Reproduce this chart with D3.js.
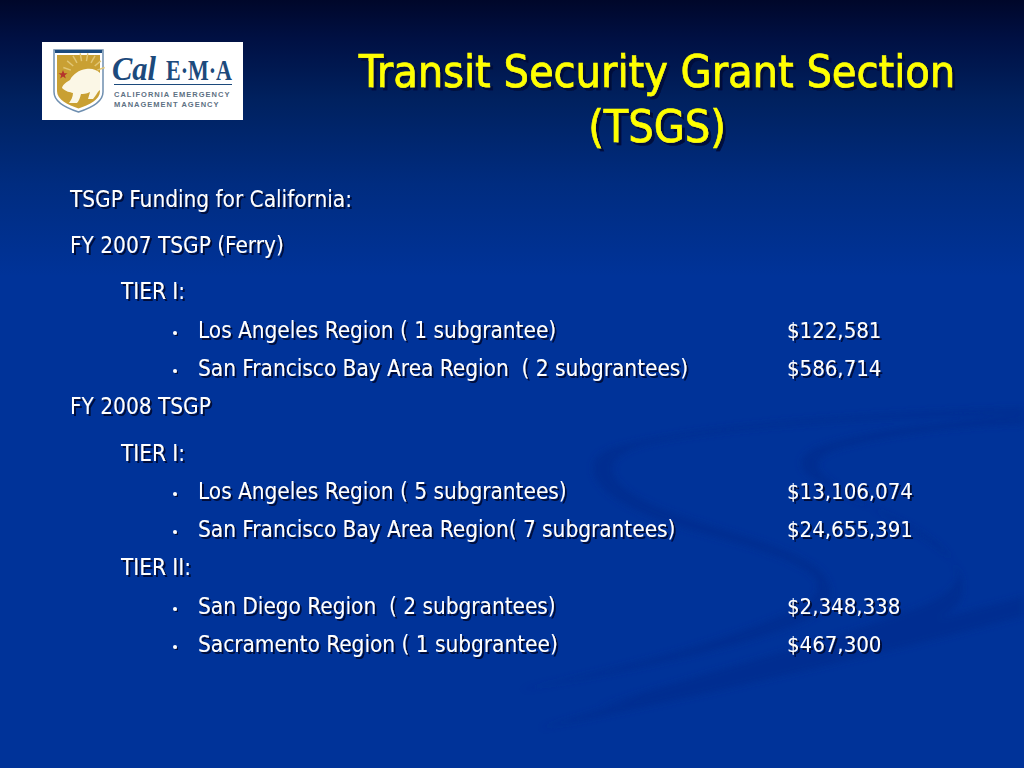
<!DOCTYPE html>
<html>
<head>
<meta charset="utf-8">
<title>Transit Security Grant Section (TSGS)</title>
<script src="https://cdn.jsdelivr.net/npm/d3@7"></script>
<style>
html, body { margin: 0; padding: 0; background: #003399; overflow: hidden; }
svg { display: block; }
</style>
</head>
<body>
<script>
const titleLines = ['Transit Security Grant Section', '(TSGS)'];
const rowLabels = [
  'TSGP Funding for California:',
  'FY 2007 TSGP (Ferry)',
  'TIER I:',
  'Los Angeles Region ( 1 subgrantee)',
  'San Francisco Bay Area Region  ( 2 subgrantees)',
  'FY 2008 TSGP',
  'TIER I:',
  'Los Angeles Region ( 5 subgrantees)',
  'San Francisco Bay Area Region( 7 subgrantees)',
  'TIER II:',
  'San Diego Region  ( 2 subgrantees)',
  'Sacramento Region ( 1 subgrantee)'
];
const rowLevels = [0, 0, 1, 2, 2, 0, 1, 2, 2, 1, 2, 2];
const rowAmounts = [null, null, null, 122581, 586714, null, null, 13106074, 24655391, null, 2348338, 467300];

const width = 1024, height = 768;
const rowY = [200, 246, 292, 331, 369, 407, 454, 492, 530, 568, 607, 645];
const levelX = d3.scaleOrdinal().domain([0, 1, 2]).range([70, 121, 198]);
const money = d3.format('$,');
const bodyFont = '"DejaVu Sans Condensed", "DejaVu Sans", sans-serif';

const svg = d3.select('body').append('svg').attr('width', width).attr('height', height);
const defs = svg.append('defs');

const bg = defs.append('linearGradient').attr('id', 'bg').attr('x1', 0).attr('y1', 0).attr('x2', 0).attr('y2', 1);
[[0, '#00072a'], [0.05, '#001043'], [0.13, '#00215f'], [0.24, '#002c80'], [0.36, '#003399'], [1, '#003399']]
  .forEach(s => bg.append('stop').attr('offset', s[0]).attr('stop-color', s[1]));
const blur = defs.append('filter').attr('id', 'soft').attr('x', '-10%').attr('y', '-10%').attr('width', '120%').attr('height', '120%');
blur.append('feGaussianBlur').attr('stdDeviation', 3);

const dropShadow = (id, off) => {
  const f = defs.append('filter').attr('id', id).attr('x', '-5%').attr('y', '-20%').attr('width', '110%').attr('height', '140%');
  f.append('feDropShadow').attr('dx', off).attr('dy', off).attr('stdDeviation', 0.5)
    .attr('flood-color', '#000f3a').attr('flood-opacity', 1);
};
dropShadow('shadowBody', 2);
dropShadow('shadowTitle', 3);

svg.append('rect').attr('width', width).attr('height', height).attr('fill', 'url(#bg)');

// faint swooshes behind the text
const swooshes = svg.append('g').attr('filter', 'url(#soft)').attr('fill', '#002a8c').attr('opacity', 0.6);
[
  'M1024 408 C880 412 690 425 612 448 C585 458 588 478 612 496 C660 532 760 540 808 572 C826 584 818 600 790 612 C700 650 600 672 520 690 C620 672 740 650 812 618 C838 604 836 580 812 564 C760 532 660 520 622 486 C606 470 610 456 640 446 C720 426 900 416 1024 414 Z',
  'M1024 416 C960 420 860 430 815 448 C795 458 798 470 815 480 C870 512 950 530 958 575 C956 592 930 604 900 614 C820 644 690 676 600 706 C720 682 860 650 940 618 C970 604 968 578 950 558 C920 530 850 500 822 474 C812 462 822 452 850 446 C900 432 970 426 1024 424 Z',
  'M1024 596 C940 620 800 650 680 686 C620 704 580 716 540 728 C640 710 800 672 900 648 C950 636 1000 622 1024 616 Z'
].forEach(d => swooshes.append('path').attr('d', d));

// logo
const logo = svg.append('g').attr('class', 'logo');
logo.append('rect').attr('x', 42).attr('y', 42).attr('width', 201).attr('height', 78).attr('fill', '#ffffff');
logo.append('path')
  .attr('d', 'M54 50 H103 V92 C103 102 91 108 78.500 112 C66 108 54 102 54 92 Z')
  .attr('fill', '#ffffff').attr('stroke', '#6f8fb0').attr('stroke-width', 1.5);
logo.append('path')
  .attr('d', 'M57 55 H100 V91 C100 100 89 105 78.500 108.500 C68 105 57 100 57 91 Z')
  .attr('fill', '#c9a033');
logo.append('rect').attr('x', 55).attr('y', 50).attr('width', 47).attr('height', 3).attr('fill', '#1c4a7c');
// sun rays above the bear
d3.range(-70, 71, 20).forEach(a => {
  const t = (a - 90) * Math.PI / 180;
  logo.append('line').attr('x1', 84 + 14 * Math.cos(t)).attr('y1', 75 + 14 * Math.sin(t))
    .attr('x2', 84 + 22 * Math.cos(t)).attr('y2', 75 + 22 * Math.sin(t))
    .attr('stroke', '#e2c777').attr('stroke-width', 1.4);
});
logo.append('path')
  .attr('d', 'M62 88 C63 84 67 82 70 80 C73 74 79 70 86 69 C92 68 97 70 100 73 L100 90 C97 92 96 96 93 99 L88 99 L90 92 C86 94 83 94 81 94 C80 98 79 101 77 103 L69 103 C71 100 73 97 73 93 C70 92 66 92 62 88 Z')
  .attr('fill', '#fbf7e6');
logo.append('path')
  .attr('d', 'M63 70 L64.200 73.200 L67.500 73.200 L64.800 75.200 L65.800 78.500 L63 76.500 L60.200 78.500 L61.200 75.200 L58.500 73.200 L61.800 73.200 Z')
  .attr('fill', '#b5342c');
logo.append('text').attr('x', 112).attr('y', 80)
  .attr('font-family', '"Liberation Serif", serif').attr('font-weight', 'bold').attr('font-style', 'italic')
  .attr('font-size', 34).attr('fill', '#1c4a7c').attr('textLength', 44).attr('lengthAdjust', 'spacingAndGlyphs').text('Cal');
logo.append('text').attr('x', 166).attr('y', 80)
  .attr('font-family', '"Liberation Serif", serif').attr('font-weight', 'bold')
  .attr('font-size', 30).attr('fill', '#1c4a7c').attr('textLength', 66).attr('lengthAdjust', 'spacingAndGlyphs').text('E·M·A');
logo.append('rect').attr('x', 114).attr('y', 84).attr('width', 118).attr('height', 1).attr('fill', '#1c4a7c');
[['CALIFORNIA EMERGENCY', 96.500], ['MANAGEMENT AGENCY', 107]].forEach(t => {
  logo.append('text').attr('x', 114).attr('y', t[1])
    .attr('font-family', '"Liberation Sans", sans-serif').attr('font-weight', 'bold')
    .attr('font-size', 7.500).attr('letter-spacing', 1).attr('fill', '#5d7183').text(t[0]);
});

// text with a hard drop shadow
const shadowText = (g, x, y, str, size, fill, filter, anchor) => g.append('text')
  .attr('x', x).attr('y', y).attr('font-size', size).attr('text-anchor', anchor || 'start')
  .attr('font-family', bodyFont).attr('fill', fill).attr('filter', `url(#${filter})`)
  .style('white-space', 'pre').text(str);

const titleG = svg.append('g');
titleLines.forEach((t, i) => shadowText(titleG, 657, 87 + i * 55, t, 44.500, '#ffff00', 'shadowTitle', 'middle')
  .attr('stroke', '#ffff00').attr('stroke-width', 0.6));

const rows = svg.append('g');
rowLabels.forEach((label, i) => {
  shadowText(rows, levelX(rowLevels[i]), rowY[i] + 7, label, 22.400, '#ffffff', 'shadowBody');
  if (rowLevels[i] === 2) {
    rows.append('circle').attr('cx', 175).attr('cy', rowY[i] + 2).attr('r', 2).attr('fill', '#ffffff').attr('filter', 'url(#shadowBody)');
  }
  if (rowAmounts[i] !== null) {
    shadowText(rows, 787, rowY[i] + 7, money(rowAmounts[i]), 22, '#ffffff', 'shadowBody');
  }
});
</script>
</body>
</html>
